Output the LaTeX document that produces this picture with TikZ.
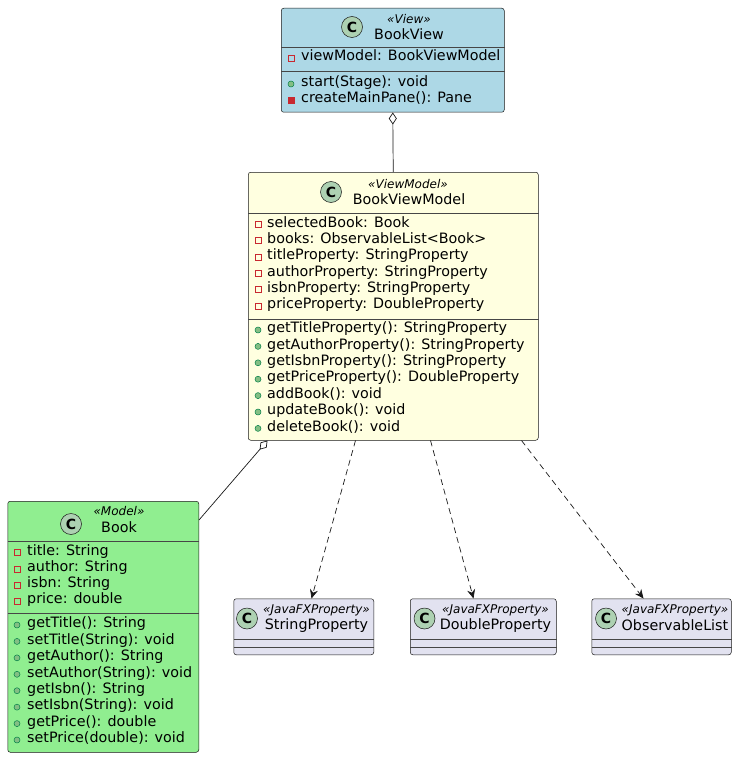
\documentclass[tikz,border=0pt]{standalone}
\usepackage{fontspec}
\setmainfont{DejaVu Sans}
\usetikzlibrary{arrows.meta}

\definecolor{viewblue}{HTML}{ADD8E6}
\definecolor{vmyellow}{HTML}{FFFFE0}
\definecolor{modelgreen}{HTML}{90EE90}
\definecolor{fxlilac}{HTML}{E2E2F0}
\definecolor{badgefill}{HTML}{ADD1B2}
\definecolor{lineclr}{HTML}{181818}
\definecolor{privred}{HTML}{C82930}
\definecolor{pubfill}{HTML}{84BE84}
\definecolor{pubedge}{HTML}{038048}

\begin{document}
\begin{tikzpicture}[x=1pt,y=-1pt]
      \tikzset{classbox/.style={draw=lineclr, line width=0.5pt, rounded corners=2.5pt, anchor=north west, inner sep=0pt},
        compline/.style={draw=lineclr!80, line width=0.5pt},
        cbadge/.style={circle, draw=lineclr, line width=0.5pt, fill=badgefill, minimum size=21pt, inner sep=0pt, font=\bfseries\fontsize{14}{16}\selectfont},
        stereo/.style={inner sep=0pt, font=\itshape\fontsize{12}{14}\selectfont},
        cname/.style={inner sep=0pt, font=\fontsize{14.3}{17}\selectfont},
        member/.style={anchor=mid west, inner sep=0pt, font=\fontsize{14.3}{17}\selectfont},
        privfield/.style={rectangle, draw=privred, line width=0.6pt, minimum size=6pt, inner sep=0pt},
        privmeth/.style={rectangle, draw=privred, fill=privred, minimum size=6pt, inner sep=0pt},
        pubmeth/.style={circle, draw=pubedge, line width=0.5pt, fill=pubfill, minimum size=6pt, inner sep=0pt},
        agg/.style={{Diamond[open, length=12pt, width=8pt]}-, draw=lineclr, line width=0.7pt},
        dep/.style={-{Stealth[length=9pt, width=8pt, inset=3pt]}, draw=lineclr, line width=0.7pt, dash pattern=on 6pt off 4pt}}
      \useasboundingbox (0,0) rectangle (737,757);

      % BookView
      \node[classbox, fill=viewblue, minimum width=223pt, minimum height=104pt] (bv) at (281,8) {};
      \draw[compline] (bv.west |- 0,47) -- (bv.east |- 0,47);
      \draw[compline] (bv.west |- 0,71) -- (bv.east |- 0,71);
      \node[cbadge] (bv-c) at (352,27) {C};
      \node[stereo] (bv-s) at (409,19) {«View»};
      \node[cname] (bv-n) at (409,34) {BookView};
      \node[privfield] (bv-i1) at (291,58) {};
      \node[member] (bv-f1) at (301,58) {viewModel: BookViewModel};
      \node[pubmeth] (bv-i2) at (291,84) {};
      \node[member] (bv-m1) at (301,84) {start(Stage): void};
      \node[privmeth] (bv-i3) at (291,100) {};
      \node[member] (bv-m2) at (301,100) {createMainPane(): Pane};

      % BookViewModel
      \node[classbox, fill=vmyellow, minimum width=290pt, minimum height=268pt] (bvm) at (248,172) {};
      \draw[compline] (bvm.west |- 0,213) -- (bvm.east |- 0,213);
      \draw[compline] (bvm.west |- 0,319) -- (bvm.east |- 0,319);
      \node[cbadge] (bvm-c) at (331,192) {C};
      \node[stereo] (bvm-s) at (408,184) {«ViewModel»};
      \node[cname] (bvm-n) at (409,199) {BookViewModel};
      \foreach \t [count=\i] in {selectedBook: Book, books: ObservableList<Book>, titleProperty: StringProperty,
          authorProperty: StringProperty, isbnProperty: StringProperty, priceProperty: DoubleProperty}
        {\node[privfield] (bvm-fi\i) at (258,{224.3+16.35*(\i-1)}) {};
         \node[member] (bvm-f\i) at (267,{224.3+16.35*(\i-1)}) {\t};}
      \foreach \t [count=\i] in {getTitleProperty(): StringProperty, getAuthorProperty(): StringProperty,
          getIsbnProperty(): StringProperty, getPriceProperty(): DoubleProperty, addBook(): void,
          updateBook(): void, deleteBook(): void}
        {\node[pubmeth] (bvm-mi\i) at (258,{330+16.4*(\i-1)}) {};
         \node[member] (bvm-m\i) at (267,{330+16.4*(\i-1)}) {\t};}

      % Book
      \node[classbox, fill=modelgreen, minimum width=191pt, minimum height=251pt] (book) at (7.5,501) {};
      \draw[compline] (book.west |- 0,541) -- (book.east |- 0,541);
      \draw[compline] (book.west |- 0,613) -- (book.east |- 0,613);
      \node[cbadge] (book-c) at (71,524) {C};
      \node[stereo] (book-s) at (119,511) {«Model»};
      \node[cname] (book-n) at (119,527) {Book};
      \foreach \t [count=\i] in {title: String, author: String, isbn: String, price: double}
        {\node[privfield] (book-fi\i) at (17,{552.7+16.1*(\i-1)}) {};
         \node[member] (book-f\i) at (27,{552.7+16.1*(\i-1)}) {\t};}
      \foreach \t [count=\i] in {getTitle(): String, setTitle(String): void, getAuthor(): String,
          setAuthor(String): void, getIsbn(): String, setIsbn(String): void, getPrice(): double,
          setPrice(double): void}
        {\node[pubmeth] (book-mi\i) at (17,{625+16.43*(\i-1)}) {};
         \node[member] (book-m\i) at (27,{625+16.43*(\i-1)}) {\t};}

      % JavaFX types
      \node[classbox, fill=fxlilac, minimum width=140pt, minimum height=56pt] (sp) at (233.5,598.5) {};
      \node[classbox, fill=fxlilac, minimum width=146pt, minimum height=56pt] (dp) at (410,598.5) {};
      \node[classbox, fill=fxlilac, minimum width=139.5pt, minimum height=56pt] (ol) at (591.5,598.5) {};
      \foreach \b in {sp,dp,ol}
        {\draw[compline] (\b.west |- 0,639) -- (\b.east |- 0,639);
         \draw[compline] (\b.west |- 0,647) -- (\b.east |- 0,647);}
      \node[cbadge] (sp-c) at (247,618.5) {C};
      \node[stereo] (sp-s) at (316.5,610) {«JavaFXProperty»};
      \node[cname] (sp-n) at (316.5,625.5) {StringProperty};
      \node[cbadge] (dp-c) at (424.5,618.5) {C};
      \node[stereo] (dp-s) at (495.5,610) {«JavaFXProperty»};
      \node[cname] (dp-n) at (495.5,625.5) {DoubleProperty};
      \node[cbadge] (ol-c) at (606,618.5) {C};
      \node[stereo] (ol-s) at (675,610) {«JavaFXProperty»};
      \node[cname] (ol-n) at (675,625.5) {ObservableList};

      % relations
      \draw[agg] (bv.south) -- (bvm.north);
      \draw[agg] ([xshift=19.5pt]bvm.south west) -- ([yshift=-19pt]book.north east);
      \draw[dep] ([xshift=107.5pt]bvm.south west) -- ([xshift=78pt]sp.north west);
      \draw[dep] ([xshift=182.5pt]bvm.south west) -- ([xshift=63.5pt]dp.north west);
      \draw[dep] ([xshift=273.5pt]bvm.south west) -- ([xshift=52pt]ol.north west);
\end{tikzpicture}
\end{document}
